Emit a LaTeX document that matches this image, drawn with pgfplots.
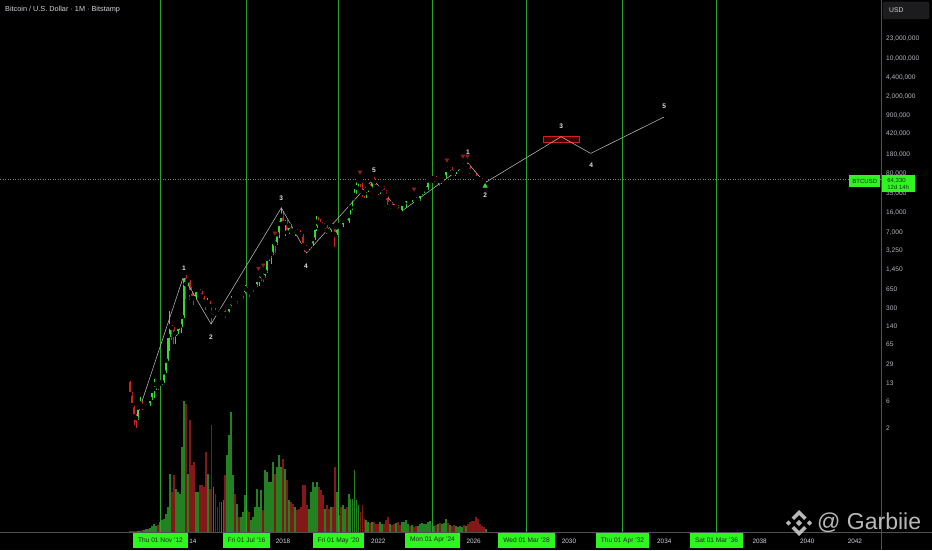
\documentclass[border=0pt]{standalone}
\usepackage{pgfplots}
\pgfplotsset{compat=1.18}
\usepackage{pgfplotstable}
\usepackage{fontspec}
\setmainfont{Liberation Sans}
\definecolor{txt}{RGB}{209,212,220}
\definecolor{ticktxt}{RGB}{178,181,190}
\definecolor{cg}{RGB}{50,222,45}
\definecolor{cr}{RGB}{210,32,32}
\definecolor{volg}{RGB}{34,130,34}
\definecolor{volr}{RGB}{130,24,24}
\definecolor{vline}{RGB}{40,165,40}
\definecolor{lbl}{RGB}{45,245,30}
\definecolor{dred}{RGB}{140,30,30}
\definecolor{bord}{RGB}{80,80,80}
\definecolor{wave}{RGB}{175,175,175}

% monthly candles that closed up: time, open, high, low, close, volume
\pgfplotstableread{
t o h l c v
2011.917 3.0 4.8 2.8 4.7 1
2012.000 4.7 7.2 4.6 5.5 1
2012.167 4.9 5.4 4.5 4.92 2
2012.250 4.92 5.3 4.7 5.0 3
2012.333 5.0 5.2 4.9 5.2 3
2012.417 5.2 6.8 5.2 6.7 4
2012.500 6.7 9.5 6.5 9.4 6
2012.583 9.4 15.4 7.0 10.2 8
2012.667 10.2 12.5 9.9 12.4 6
2012.833 11.2 12.8 10.4 12.6 10
2012.917 12.6 13.9 12.5 13.5 12
2013.000 13.5 20.8 13.2 20.4 13
2013.083 20.4 33.5 19.5 33.4 18
2013.167 33.4 95 33 93 25
2013.250 93 266 50 139 58
2013.500 97 111 65 106 43
2013.583 106 141 96 135 40
2013.667 135 145 120 141 38
2013.750 141 220 105 206 85
2013.833 206 1163 200 1128 131
2014.000 805 1000 750 938 58
2014.333 448 630 430 630 40
2014.417 630 680 550 639 40
2014.833 338 460 320 378 58
2015.083 218 264 211 254 45
2015.417 230 270 220 264 30
2015.500 264 314 255 284 32
2015.667 230 247 225 237 77
2015.750 237 316 235 311 97
2015.833 311 500 309 377 120
2015.917 377 467 350 430 57
2016.083 369 448 365 437 28
2016.250 416 468 415 449 15
2016.333 449 550 444 532 20
2016.417 532 780 530 670 37
2016.667 574 615 570 609 12
2016.750 609 720 605 699 15
2016.833 699 755 690 745 25
2016.917 745 975 740 964 43
2017.000 964 1150 750 965 25
2017.083 965 1200 915 1190 42
2017.250 1080 1350 1060 1350 62
2017.333 1350 2760 1350 2300 60
2017.417 2300 3000 2100 2480 50
2017.500 2480 2920 1830 2875 50
2017.583 2875 4760 2670 4730 70
2017.750 4340 6470 4110 6460 65
2017.833 6460 11400 5500 9950 77
2017.917 9950 19670 9400 13880 65
2018.083 10130 11800 5900 10300 63
2018.250 6930 9760 6430 9240 32
2018.500 6390 8500 6080 7730 25
2019.083 3440 4200 3390 3810 23
2019.167 3810 4140 3700 4100 40
2019.250 4100 5640 4060 5270 50
2019.333 5270 9100 5180 8560 45
2019.417 8560 13880 7460 10800 50
2019.750 8300 10350 7300 9150 23
2020.000 7200 9570 6850 9350 25
2020.250 6420 9470 6150 8620 40
2020.333 8620 10070 8110 9450 17
2020.500 9140 11450 8990 11340 27
2020.583 11340 12480 10980 11660 23
2020.750 10780 14100 10520 13800 38
2020.833 13800 19900 13200 19700 33
2020.917 19700 29300 17600 28990 33
2021.000 28990 41990 28100 33100 62
2021.083 33100 58350 32300 45200 32
2021.167 45200 61800 45000 58800 27
2021.500 35040 42300 29300 41500 12
2021.583 41500 50500 37300 47100 10
2021.750 43800 67000 43300 61300 10
2022.083 38500 45800 34300 43200 10
2022.167 43200 48200 37200 45500 8
2022.500 19900 24700 18800 23300 8
2022.750 19400 21000 18200 20500 9
2023.000 16540 23950 16500 23130 10
2023.083 23130 25250 21400 23150 10
2023.167 23150 29200 19550 28480 12
2023.250 28480 31000 26940 29250 8
2023.417 27200 31400 24800 30480 7
2023.667 25940 27500 24900 26970 6
2023.750 26970 35200 26550 34650 8
2023.833 34650 38400 34100 37720 9
2023.917 37720 44700 37600 42280 8
2024.000 42280 48970 38500 42580 8
2024.083 42580 64000 41900 61130 10
2024.167 61130 73800 59300 71290 11
2024.333 60640 71900 56600 67500 6
2024.500 62700 70000 53500 64600 8
2024.667 58970 66500 52600 63330 8
2024.750 63330 73600 58900 70200 9
2024.833 70200 99800 66800 96400 13
2025.000 93400 109300 89200 102400 7
2025.250 82500 95800 74500 94200 6
2025.333 94200 111900 93400 104600 5
2025.417 104600 110500 98200 107100 6
2025.500 107100 123200 105300 115700 5
2025.667 108200 117900 107300 114000 6
2026.500 58000 65500 57500 64330 3
}\up

% monthly candles that closed down
\pgfplotstableread{
t o h l c v
2011.583 13.0 14.0 7.5 8.2 1
2011.667 8.2 8.9 4.5 5.1 1
2011.750 5.1 5.3 2.3 3.2 1
2011.833 3.2 3.5 2.0 3.0 1
2012.083 5.5 6.3 4.2 4.9 2
2012.750 12.4 12.5 9.8 11.2 7
2013.333 139 140 79 129 40
2013.417 129 130 66 97 57
2013.917 1128 1163 430 805 128
2014.083 938 940 410 572 112
2014.167 572 720 435 449 67
2014.250 449 545 340 448 70
2014.500 639 650 567 583 47
2014.583 583 600 440 478 47
2014.667 478 495 370 387 45
2014.750 387 418 275 338 80
2014.917 378 384 300 320 43
2015.000 320 320 152 218 107
2015.167 254 300 240 245 38
2015.250 245 259 213 236 25
2015.333 236 249 226 230 30
2015.583 284 285 199 230 57
2016.000 430 460 350 369 38
2016.167 437 440 402 416 15
2016.500 670 705 600 625 22
2016.583 625 630 470 574 20
2017.167 1190 1290 890 1080 22
2017.667 4730 5000 2970 4340 58
2018.000 13880 17200 9000 10130 73
2018.167 10300 11700 6400 6930 52
2018.333 9240 9950 7040 7490 30
2018.417 7490 7760 5790 6390 28
2018.583 7730 7750 5870 7010 22
2018.667 7010 7400 6100 6610 23
2018.750 6610 7670 6200 6290 25
2018.833 6290 6580 3600 4020 47
2018.917 4020 4300 3120 3740 47
2019.000 3740 4120 3360 3440 27
2019.500 10800 13190 9060 10090 45
2019.583 10090 12320 9320 9600 42
2019.667 9600 10940 7730 8300 37
2019.833 9150 9500 6520 7550 27
2019.917 7550 7750 6430 7200 23
2020.083 9350 10500 8450 8540 25
2020.167 8540 9190 3850 6420 65
2020.417 9450 10380 8900 9140 25
2020.667 11660 12100 9880 10780 25
2021.250 58800 64900 47000 57800 20
2021.333 57800 59500 30000 37300 27
2021.417 37300 41300 28800 35040 13
2021.667 47100 52900 39600 43800 9
2021.833 61300 69000 53000 57000 10
2021.917 57000 59100 42000 46200 8
2022.000 46200 47900 32900 38500 8
2022.250 45500 47400 37600 37700 8
2022.333 37700 40000 26700 31800 12
2022.417 31800 31900 17600 19900 15
2022.583 23300 25200 19600 20050 7
2022.667 20050 22800 18200 19400 8
2022.833 20500 21500 15500 17150 10
2022.917 17150 18400 16300 16540 7
2023.333 29250 29800 25800 27200 6
2023.500 30480 31800 28860 29230 5
2023.583 29230 30200 25200 25940 6
2024.250 71290 72800 56500 60640 7
2024.417 67500 71900 58500 62700 7
2024.583 64600 65100 49000 58970 9
2024.917 96400 108300 90500 93400 9
2025.083 102400 102500 78200 84350 6
2025.167 84350 95000 76600 82500 7
2025.583 115700 124500 107300 108200 7
2025.750 114000 126200 103500 109500 8
2025.833 109500 111200 80600 90400 10
2025.917 90400 94600 84400 87500 11
2026.000 87500 97900 74500 78600 11
2026.083 78600 79500 60000 67000 15
2026.167 67000 74000 63000 66000 13
2026.250 66000 70000 61000 64000 8
2026.333 64000 66000 57000 60000 6
2026.417 60000 63000 55000 58000 5
}\dn

% wave count path
\pgfplotstableread{
t v
2011.8 2.6
2013.82 1100
2014.98 152
2017.93 19400
2018.99 2950
2021.78 64000
2022.91 16000
2025.76 126000
2026.47 55000
2029.67 377000
2030.91 188000
2033.99 857000
}\wavetab

% sell signal markers
\pgfplotstableread{
t v
2016.97 1560
2017.17 1790
2017.66 6780
2021.23 86400
2023.50 42500
2024.88 142600
2025.55 168400
2025.74 168400
}\sigtab

\pgfplotsset{
  base/.style={at={(0,0)}, anchor=south west, scale only axis,
    width=881pt, height=532pt, xmin=2006.123, xmax=2043.094, clip=false},
  vl/.style={vline, line width=1.2pt, forget plot, mark=none},
}

\begin{document}
\begin{tikzpicture}[x=1pt,y=1pt]
\fill[black] (0,-18) rectangle (932,532);
\path[use as bounding box] (0,-18) rectangle (932,532);

% volume pane
\begin{axis}[base, hide axis, ymin=0, ymax=532]
\addplot[ycomb, line width=1.9pt, volg, mark=none] table[x=t, y=v]{\up};
\addplot[ycomb, line width=1.9pt, volr, mark=none] table[x=t, y=v]{\dn};
\end{axis}

% price pane (log10 of price on a linear axis)
\begin{axis}[base, ymin=-1.585, ymax=8.053,
  axis line style={draw=none}, major tick length=0pt, tick style={draw=none},
  ytick={7.36173,7,6.64345,6.30103,5.95424,5.62325,5.25527,4.90309,4.54407,4.20412,3.84510,3.51188,3.16137,2.81291,2.47712,2.14613,1.81291,1.46240,1.11394,0.77815,0.30103},
  yticklabels={{23,000,000},{10,000,000},{4,400,000},{2,000,000},{900,000},{420,000},{180,000},{80,000},{35,000},{16,000},{7,000},{3,250},{1,450},{650},{300},{140},{65},{29},{13},{6},{2}},
  yticklabel pos=right,
  yticklabel style={anchor=west, inner sep=0pt, xshift=5pt, text=ticktxt, font=\fontsize{6.6}{7}\selectfont},
  xtick={2018,2022,2026,2030,2034,2038,2040,2042},
  xticklabels={2018,2022,2026,2030,2034,2038,2040,2042},
  xticklabel style={anchor=center, inner sep=0pt, yshift=-9pt, text=txt, font=\fontsize{6.4}{7}\selectfont},
]
% vertical cycle lines
\addplot[vl] coordinates {(2012.858,-1.585) (2012.858,8.053)};
\addplot[vl] coordinates {(2016.467,-1.585) (2016.467,8.053)};
\addplot[vl] coordinates {(2020.328,-1.585) (2020.328,8.053)};
\addplot[vl] coordinates {(2024.273,-1.585) (2024.273,8.053)};
\addplot[vl] coordinates {(2028.218,-1.585) (2028.218,8.053)};
\addplot[vl] coordinates {(2032.246,-1.585) (2032.246,8.053)};
\addplot[vl] coordinates {(2036.191,-1.585) (2036.191,8.053)};
% current price line
\draw[gray, dotted, line width=0.5pt] (axis cs:2006.123,{log10(64330)}) -- (axis cs:2043.094,{log10(64330)});

% wicks
\addplot[only marks, mark=none, forget plot,
  error bars/.cd, y dir=both, y explicit, error mark=none,
  error bar style={draw=cg, line width=0.8pt}]
  table[x=t, y expr=log10(\thisrow{c}), y error plus expr=log10(\thisrow{h})-log10(\thisrow{c}), y error minus expr=log10(\thisrow{c})-log10(\thisrow{l})]{\up};
\addplot[only marks, mark=none, forget plot,
  error bars/.cd, y dir=both, y explicit, error mark=none,
  error bar style={draw=cr, line width=0.8pt}]
  table[x=t, y expr=log10(\thisrow{c}), y error plus expr=log10(\thisrow{h})-log10(\thisrow{c}), y error minus expr=log10(\thisrow{c})-log10(\thisrow{l})]{\dn};
% bodies
\addplot[only marks, mark=none, forget plot,
  error bars/.cd, y dir=minus, y explicit, error mark=none,
  error bar style={draw=cg, line width=1.9pt, line cap=butt}]
  table[x=t, y expr=log10(\thisrow{c}), y error minus expr=log10(\thisrow{c})-log10(\thisrow{o})+0.015]{\up};
\addplot[only marks, mark=none, forget plot,
  error bars/.cd, y dir=plus, y explicit, error mark=none,
  error bar style={draw=cr, line width=1.9pt, line cap=butt}]
  table[x=t, y expr=log10(\thisrow{c}), y error plus expr=log10(\thisrow{o})-log10(\thisrow{c})+0.015]{\dn};

% signal markers
\addplot[only marks, mark=triangle*, mark size=2.2pt, color=dred, mark options={rotate=180}]
  table[x=t, y expr=log10(\thisrow{v})]{\sigtab};
\addplot[only marks, mark=triangle*, mark size=2.6pt, color=cg]
  coordinates {(2026.48,4.683)};

% projection box
\draw[cr, line width=0.7pt, fill=cr, fill opacity=0.25] (axis cs:2028.91,{log10(388000)}) rectangle (axis cs:2030.43,{log10(302000)});

% wave line
\addplot[wave, line width=0.6pt, mark=none] table[x=t, y expr=log10(\thisrow{v})]{\wavetab};

% wave labels
\tikzset{wl/.style={text=white!88!black, font=\bfseries\fontsize{6.6}{7}\selectfont, inner sep=0pt}}
\node[wl] at (axis cs:2013.84,{log10(1576)}) {1};
\node[wl] at (axis cs:2014.98,{log10(88.6)}) {2};
\node[wl] at (axis cs:2017.92,{log10(29230)}) {3};
\node[wl] at (axis cs:2018.96,{log10(1713)}) {4};
\node[wl] at (axis cs:2021.82,{log10(93970)}) {5};
\node[wl] at (axis cs:2025.76,{log10(199000)}) {1};
\node[wl] at (axis cs:2026.48,{log10(33100)}) {2};
\node[wl] at (axis cs:2029.67,{log10(589000)}) {3};
\node[wl] at (axis cs:2030.93,{log10(115800)}) {4};
\node[wl] at (axis cs:2034.0,{log10(1357000)}) {5};

\coordinate (cp) at (axis cs:2043.094,{log10(64330)});
\coordinate (d1) at (axis cs:2012.858,-1.585);
\coordinate (d2) at (axis cs:2016.467,-1.585);
\coordinate (d3) at (axis cs:2020.328,-1.585);
\coordinate (d4) at (axis cs:2024.273,-1.585);
\coordinate (d5) at (axis cs:2028.218,-1.585);
\coordinate (d6) at (axis cs:2032.246,-1.585);
\coordinate (d7) at (axis cs:2036.191,-1.585);
\end{axis}

% frame lines
\draw[bord, line width=0.7pt] (0,0) -- (932,0);
\draw[bord, line width=0.8pt] (881.5,-18) -- (881.5,532);

% date boxes
\tikzset{db/.style={fill=lbl, text=black!85, inner xsep=5pt, inner ysep=0pt, minimum height=15pt, anchor=north, font=\fontsize{6.6}{7.5}\selectfont}}
\node[db] (b1) at ([yshift=-0.6pt]d1) {Thu 01 Nov '12};
\node[db] at ([yshift=-0.6pt]d2) {Fri 01 Jul '16};
\node[db] at ([yshift=-0.6pt]d3) {Fri 01 May '20};
\node[db] at ([yshift=-0.6pt]d4) {Mon 01 Apr '24};
\node[db] at ([yshift=-0.6pt]d5) {Wed 01 Mar '28};
\node[db] at ([yshift=-0.6pt]d6) {Thu 01 Apr '32};
\node[db] at ([yshift=-0.6pt]d7) {Sat 01 Mar '36};
% the part of the 2014 label left visible beside the first date box
\node[anchor=west, inner sep=0pt, text=txt, font=\fontsize{6.4}{7}\selectfont] at ([xshift=1pt,yshift=-0.9pt]b1.east) {14};

% price label
\node[fill=lbl, text=black!85, inner sep=0pt, minimum width=31pt, minimum height=12pt, anchor=east, font=\fontsize{6}{6.5}\selectfont] at ([xshift=-0.5pt,yshift=-2pt]cp) {BTCUSD};
\node[fill=lbl, text=black!85, inner xsep=2pt, inner ysep=1.5pt, minimum width=33pt, minimum height=17pt, anchor=north west, align=left, font=\fontsize{6}{7}\selectfont] at ([xshift=0.5pt,yshift=4pt]cp) {64,330\\12d 14h};

% title
\node[anchor=west, text=txt, inner sep=0pt, font=\fontsize{7.3}{8}\selectfont] at (5,522) {Bitcoin / U.S. Dollar · 1M · Bitstamp};

% USD box
\draw[rounded corners=2pt, fill={rgb,255:red,28;green,28;blue,30}, draw={rgb,255:red,45;green,45;blue,50}] (883,513) rectangle (929,530);
\node[anchor=west, text=txt, inner sep=0pt, font=\fontsize{6.8}{7}\selectfont] at (889,521.5) {USD};

% watermark
\begin{scope}[fill=white!80!black, opacity=0.9]
\fill (799,9) ++(0,3.2) -- ++(3.2,-3.2) -- ++(-3.2,-3.2) -- ++(-3.2,3.2) -- cycle;
\fill (788.5,9) ++(0,2.6) -- ++(2.6,-2.6) -- ++(-2.6,-2.6) -- ++(-2.6,2.6) -- cycle;
\fill (809.5,9) ++(0,2.6) -- ++(2.6,-2.6) -- ++(-2.6,-2.6) -- ++(-2.6,2.6) -- cycle;
\fill (799,22) -- (806.5,14.5) -- (804,12) -- (799,17) -- (794,12) -- (791.5,14.5) -- cycle;
\fill (799,-4) -- (806.5,3.5) -- (804,6) -- (799,1) -- (794,6) -- (791.5,3.5) -- cycle;
\end{scope}
\node[anchor=base west, text=white!80!black, opacity=0.9, inner sep=0pt, font=\fontsize{23}{26}\selectfont] at (817,3) {@ Garbiie};
\end{tikzpicture}
\end{document}
